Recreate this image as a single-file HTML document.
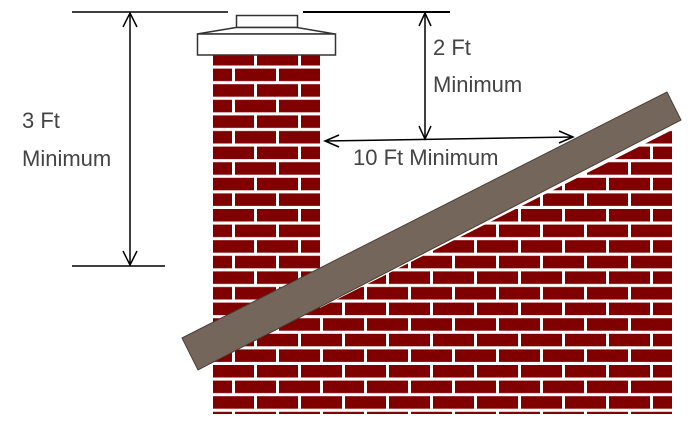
<!DOCTYPE html>
<html><head><meta charset="utf-8"><style>
html,body{margin:0;padding:0;background:#fff;width:688px;height:434px;overflow:hidden}
svg text{font-family:"Liberation Sans",Arial,sans-serif;font-size:22px;fill:#444}
</style></head><body>
<svg width="688" height="434" viewBox="0 0 688 434" xmlns="http://www.w3.org/2000/svg">
<defs>
<pattern id="br" x="213" y="53" width="88" height="31.2" patternUnits="userSpaceOnUse">
<rect width="88" height="31.2" fill="#fff"/>
<rect x="0" y="0" width="41" height="12.5" fill="#800000"/>
<rect x="44" y="0" width="41" height="12.5" fill="#800000"/>
<rect x="-22" y="15.6" width="41" height="12.5" fill="#800000"/>
<rect x="22" y="15.6" width="41" height="12.5" fill="#800000"/>
<rect x="66" y="15.6" width="41" height="12.5" fill="#800000"/>
</pattern>
</defs>
<rect x="213" y="53" width="107" height="361" fill="url(#br)"/>
<polygon points="213,362 672,130 672,414 213,414" fill="url(#br)"/>
<polygon points="182,338 667,92 681,120 198,370" fill="#75665c" stroke="#4a3f38" stroke-width="1"/>
<rect x="236.5" y="15.5" width="61" height="12" fill="#fff" stroke="#333" stroke-width="1.5"/>
<polygon points="236,27.5 297,27.5 335,34 197,34" fill="#fff" stroke="#333" stroke-width="1.5"/>
<rect x="197.5" y="34" width="138" height="21" fill="#fff" stroke="#333" stroke-width="1.5"/>
<g stroke="#000" fill="none" stroke-width="1.5">
<line x1="72" y1="12" x2="228" y2="12"/>
<line x1="303" y1="12" x2="450" y2="12" stroke-width="2"/>
<line x1="72" y1="266" x2="165" y2="266"/>
<line x1="130" y1="13" x2="130" y2="265"/>
<polyline points="123,27 130,13 137,27"/>
<polyline points="123,251 130,265 137,251"/>
<line x1="425" y1="13" x2="425" y2="139"/>
<polyline points="419,26 425,13 431,26"/>
<polyline points="419,126 425,139 431,126"/>
<line x1="325" y1="141" x2="573" y2="137"/>
<polyline points="339,135 325,141 339,147"/>
<polyline points="559,131 573,137 559,143"/>
</g>
<text x="22" y="128">3 Ft</text>
<text x="22" y="166">Minimum</text>
<text x="433" y="55">2 Ft</text>
<text x="433" y="92">Minimum</text>
<text x="353" y="165">10 Ft Minimum</text>
</svg>
</body></html>
